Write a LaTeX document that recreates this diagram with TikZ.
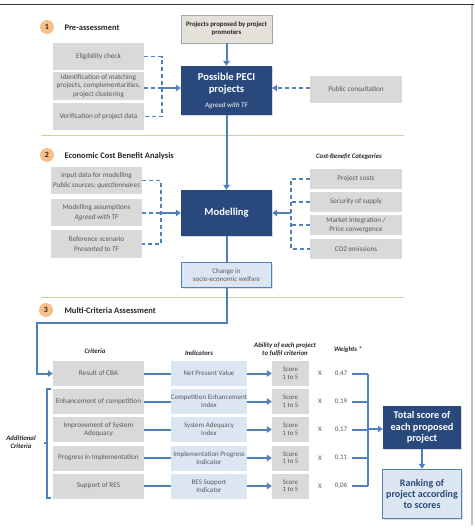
\documentclass[tikz,border=0pt]{standalone}
\usepackage{fontspec}
\setmainfont{Carlito}
\usetikzlibrary{arrows.meta,shadows}
\definecolor{blueline}{HTML}{4F81BD}
\definecolor{darkbox}{HTML}{29497C}
\definecolor{graybox}{HTML}{D9D9D9}
\definecolor{graytext}{HTML}{595959}
\definecolor{lightblue}{HTML}{DCE6F2}
\definecolor{circfill}{HTML}{F9BF8A}
\definecolor{sepline}{HTML}{C4D79B}
\definecolor{headtext}{HTML}{262626}
\definecolor{tanbox}{HTML}{E3E1D9}
\tikzset{
  gbox/.style={fill=graybox, text=graytext, align=center, inner sep=0pt, font=\fontsize{7.2}{8.4}\selectfont},
  dbox/.style={fill=darkbox, text=white, align=center, inner sep=1pt, drop shadow={opacity=0.3, shadow xshift=1pt, shadow yshift=-1pt}},
  lbbox/.style={fill=lightblue, draw=blueline, line width=1.5pt, text=graytext, align=center, inner sep=1pt, drop shadow={opacity=0.25, shadow xshift=1pt, shadow yshift=-1pt}},
  ibox/.style={fill=lightblue, text=graytext, align=center, inner sep=0pt, font=\fontsize{7}{8}\selectfont},
  sbox/.style={fill=graybox, text=graytext, align=center, inner sep=0pt, font=\fontsize{6.8}{7.4}\selectfont, minimum width=37pt, minimum height=25pt},
  stepcirc/.style={circle, fill=circfill, text=headtext, inner sep=0pt, minimum size=14pt, font=\bfseries\fontsize{8}{9}\selectfont},
  heading/.style={anchor=west, text=headtext, font=\bfseries\fontsize{8.5}{10}\selectfont},
  colhead/.style={text=headtext, align=center, font=\bfseries\itshape\fontsize{6.8}{8}\selectfont},
  dline/.style={draw=blueline, line width=1.1pt, dash pattern=on 4pt off 3pt},
  sline/.style={draw=blueline, line width=2pt},
  arr/.style={draw=blueline, line width=2pt, -{Triangle[length=5pt,width=6.5pt]}},
  sep/.style={draw=sepline, line width=1pt},
  wtext/.style={text=graytext, font=\fontsize{7}{8}\selectfont},
}
\begin{document}
\begin{tikzpicture}[x=1pt,y=-1pt]
\useasboundingbox (0,0) rectangle (474,530);
\fill[white] (0,0) rectangle (474,530);
% frame
\draw[line width=1.5pt, black!80] (0,4.5) -- (474,4.5);
\draw[line width=2pt, black!25] (472,5) -- (472,525);
% separators
\draw[sep] (41,135) -- (404,135);
\draw[sep] (41,297) -- (404,297);

% ---------- Section 1 ----------
\node[stepcirc] (c1) at (47,27) {1};
\node[heading] (h1) at (61,28) {Pre-assessment};
\node[fill=tanbox, draw=black!35, line width=0.6pt, text=headtext, align=center, inner sep=0pt,
      minimum width=91pt, minimum height=28pt, font=\bfseries\fontsize{6.8}{8}\selectfont] (proj) at (226.5,29) {Projects proposed by project\\promoters};
\node[dbox, minimum width=91pt, minimum height=49pt, font=\bfseries\fontsize{10.6}{12}\selectfont] (peci) at (226.5,90.5)
  {Possible PECI\\projects\\[3pt]\normalfont\itshape\fontsize{7}{8}\selectfont Agreed with TF};
\node[gbox, minimum width=91pt, minimum height=27pt] (elig) at (98.5,56.5) {Eligibility check};
\node[gbox, minimum width=91pt, minimum height=28pt] (ident) at (98.5,86) {Identification of matching\\projects, complementarities,\\project clustering};
\node[gbox, minimum width=91pt, minimum height=27pt] (verif) at (98.5,116.5) {Verification of project data};
\node[gbox, minimum width=92pt, minimum height=27pt] (pub) at (356,89.5) {Public consultation};
\coordinate (j1) at (162,88);
\draw[dline] (elig.east) -- (elig.east -| j1) -- (verif.east -| j1) -- (verif.east);
\draw[dline] (ident.east |- j1) -- (j1);
\draw[arr] (j1) -- (j1 -| peci.west);
\draw[dline, -{Triangle[length=5pt,width=6.5pt]}] (pub.west |- j1) -- (j1 -| peci.east);
\draw[arr] (proj.south) -- (peci.north);

% ---------- Section 2 ----------
\node[stepcirc] (c2) at (47,155) {2};
\node[heading] (h2) at (61,156) {Economic Cost Benefit Analysis};
\node[colhead] (cbc) at (349,157) {Cost-Benefit Categories};
\node[gbox, minimum width=91pt, minimum height=27pt] (input) at (96.5,180.5) {Input data for modelling\\[2pt]\itshape Public sources; questionnaires};
\node[gbox, minimum width=91pt, minimum height=27pt] (assum) at (96.5,212.5) {Modelling assumptions\\[2pt]\itshape Agreed with TF};
\node[gbox, minimum width=91pt, minimum height=28pt] (refs) at (96.5,244) {Reference scenario\\[2pt]\itshape Presented to TF};
\node[dbox, minimum width=91pt, minimum height=46pt, font=\bfseries\fontsize{10.5}{12}\selectfont] (model) at (226.5,213) {Modelling};
\node[gbox, minimum width=92pt, minimum height=20pt] (costs) at (356,179) {Project costs};
\node[gbox, minimum width=92pt, minimum height=20pt] (secur) at (356,202) {Security of supply};
\node[gbox, minimum width=92pt, minimum height=20pt] (market) at (356,225) {Market Integration /\\Price convergence};
\node[gbox, minimum width=92pt, minimum height=20pt] (co2) at (356,249) {CO2 emissions};
\coordinate (j2) at (161,213);
\coordinate (j3) at (291,213);
\draw[dline] (input.east) -- (input.east -| j2) -- (refs.east -| j2) -- (refs.east);
\draw[dline] (assum.east |- j2) -- (j2);
\draw[arr] (j2) -- (j2 -| model.west);
\draw[dline] (costs.west) -- (costs.west -| j3) -- (co2.west -| j3) -- (co2.west);
\draw[dline] (secur.west) -- (secur.west -| j3);
\draw[dline] (market.west) -- (market.west -| j3);
\draw[arr] (j3) -- (j3 -| model.east);
\draw[arr] (peci.south) -- (model.north);
\node[lbbox, minimum width=90pt, minimum height=25pt, font=\fontsize{7}{8}\selectfont] (change) at (226.5,275) {Change in\\socio-economic welfare};
\draw[sline] (model.south) -- (change.north);

% ---------- Section 3 ----------
\node[stepcirc] (c3) at (46,310) {3};
\node[heading] (h3) at (61,311) {Multi-Criteria Assessment};
\node[colhead] (hcrit) at (95,351) {Criteria};
\node[colhead] (hind) at (199,353) {Indicators};
\node[colhead] (habil) at (285,350) {Ability of each project\\to fulfil criterion};
\node[colhead] (hw) at (348,350) {Weights *};

\foreach \i/\y/\crit/\ind/\w in {
  1/373.5/{Result of CBA}/{Net Present Value}/{0,47},
  2/401.5/{Enhancement of competition}/{Competition Enhancement\\Index}/{0,19},
  3/429.5/{Improvement of System\\Adequacy}/{System Adequacy\\Index}/{0,17},
  4/458/{Progress in Implementation}/{Implementation Progress\\Indicator}/{0,11},
  5/486/{Support of RES}/{RES Support\\Indicator}/{0,06}} {
  \node[gbox, minimum width=91pt, minimum height=25pt] (cr\i) at (98.5,\y) {\crit};
  \node[ibox, minimum width=76pt, minimum height=25pt] (in\i) at (209,\y) {\ind};
  \node[sbox] (sc\i) at (290.5,\y) {Score\\1 to 5};
  \node[wtext] (x\i) at (320,\y) {X};
  \node[wtext] (w\i) at (341,\y) {\w};
  \draw[sline] (cr\i.east) -- (in\i.west);
  \draw[arr] (in\i.east) -- (sc\i.west);
}
\coordinate (bar) at (368,429);
\foreach \i in {1,...,5} { \draw[sline] (w\i.east) ++(1pt,0) -- (w\i.east -| bar); }
\draw[sline] (w1.east -| bar) -- (w5.east -| bar);
\node[dbox, minimum width=78pt, minimum height=43pt, font=\bfseries\fontsize{10.3}{11.5}\selectfont] (total) at (422,427.5) {Total score of\\each proposed\\project};
\draw[arr] (bar) -- (bar -| total.west);
\node[lbbox, minimum width=79pt, minimum height=49pt, text=darkbox, font=\bfseries\fontsize{10}{11.3}\selectfont] (rank) at (422,494) {Ranking of\\project according\\to scores};
\draw[arr] (total.south) -- (rank.north);

% link from change to result of CBA
\coordinate (k1) at (226.5,323);
\coordinate (k2) at (37,323);
\draw[sline, -{Triangle[length=5pt,width=6.5pt]}] (change.south) -- (k1) -- (k2) -- (k2 |- cr1.west) -- (cr1.west);

% additional criteria bracket
\coordinate (b1) at (47,389);
\coordinate (b2) at (47,498);
\draw[draw=blueline, line width=1.4pt] (51,389) -- (b1) -- (b2) -- (51,498);
\draw[draw=blueline, line width=1.4pt] (47,443) -- (44,443);
\node[colhead] (addc) at (21,442) {Additional\\Criteria};
\end{tikzpicture}
\end{document}
